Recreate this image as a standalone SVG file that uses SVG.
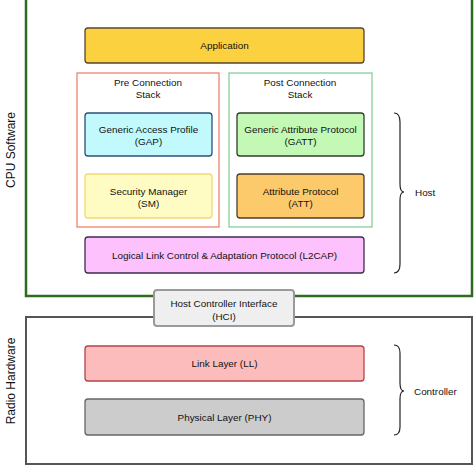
<svg xmlns="http://www.w3.org/2000/svg" width="474" height="466" viewBox="0 0 474 466">
<style>
text{font-family:"Liberation Sans",Arial,sans-serif;font-size:9.9px;fill:#111111;text-anchor:middle;dominant-baseline:central}
.side{font-size:12px;fill:#111}
.lbl{text-anchor:start;font-size:9.9px}
.box{stroke-width:1.3}
.brace{fill:none;stroke:#222;stroke-width:1.2}
</style>
<rect width="474" height="466" fill="#ffffff"/>
<g id="cpu-software">
<rect x="26" y="-2" width="446" height="298" fill="#ffffff" stroke="#2e6b1e" stroke-width="2.5"/>
<text class="side" transform="translate(11,150) rotate(-90)">CPU Software</text>
</g>
<g id="radio-hardware">
<rect x="26" y="317" width="446" height="147" fill="#ffffff" stroke="#555555" stroke-width="2"/>
<text class="side" transform="translate(11,381) rotate(-90)">Radio Hardware</text>
</g>
<g id="application">
<rect class="box" x="85" y="28" width="279" height="35" rx="3" fill="#fcd13f" stroke="#5a4630"/>
<text x="224.5" y="45.5">Application</text>
</g>
<g id="pre-connection">
<rect x="77" y="73" width="142" height="154" fill="none" stroke="#f0826e" stroke-width="1.3"/>
<text x="148" y="82">Pre Connection</text>
<text x="148" y="94">Stack</text>
</g>
<g id="post-connection">
<rect x="229" y="73" width="143" height="154" fill="none" stroke="#86cf98" stroke-width="1.3"/>
<text x="300" y="82">Post Connection</text>
<text x="300" y="94">Stack</text>
</g>
<g id="gap">
<rect class="box" x="85" y="113" width="127" height="43" rx="3" fill="#c1f9fc" stroke="#2f4f78"/>
<text x="148.5" y="129">Generic Access Profile</text>
<text x="148.5" y="141">(GAP)</text>
</g>
<g id="gatt">
<rect class="box" x="237" y="113" width="127" height="43" rx="3" fill="#c3f9b5" stroke="#2f3f2f"/>
<text x="300.5" y="129">Generic Attribute Protocol</text>
<text x="300.5" y="141">(GATT)</text>
</g>
<g id="sm">
<rect class="box" x="85" y="174" width="127" height="44" rx="3" fill="#fefcc2" stroke="#f4d775"/>
<text x="148.5" y="191">Security Manager</text>
<text x="148.5" y="203">(SM)</text>
</g>
<g id="att">
<rect class="box" x="237" y="174" width="127" height="44" rx="3" fill="#fcc96b" stroke="#4d3c2e"/>
<text x="300.5" y="191">Attribute Protocol</text>
<text x="300.5" y="203">(ATT)</text>
</g>
<g id="l2cap">
<rect class="box" x="85" y="237" width="279" height="36" rx="3" fill="#fdc1fd" stroke="#3e2d4e"/>
<text x="224.5" y="255">Logical Link Control &amp; Adaptation Protocol (L2CAP)</text>
</g>
<g id="hci">
<rect x="154" y="290" width="140" height="36" rx="3" fill="#efefef" stroke="#9a9a9a" stroke-width="2"/>
<text x="224" y="303">Host Controller Interface</text>
<text x="224" y="316">(HCI)</text>
</g>
<g id="ll">
<rect class="box" x="85" y="346" width="279" height="35" rx="3" fill="#fdbcbc" stroke="#b4434b"/>
<text x="224.5" y="363.5">Link Layer (LL)</text>
</g>
<g id="phy">
<rect class="box" x="85" y="399" width="279" height="36" rx="3" fill="#cccccc" stroke="#666666"/>
<text x="224.5" y="417.5">Physical Layer (PHY)</text>
</g>
<g id="host">
<path class="brace" d="M394,113 Q400,113 400,122 L400,184 Q400,192 404,192 Q400,192 400,200 L400,264 Q400,273 394,273"/>
<text class="lbl" x="415" y="192.5">Host</text>
</g>
<g id="controller">
<path class="brace" d="M394,345 Q400,345 400,353 L400,383 Q400,391 404,391 Q400,391 400,399 L400,427 Q400,435 394,435"/>
<text class="lbl" x="414" y="391">Controller</text>
</g>
<g id="connectors"></g>
</svg>
